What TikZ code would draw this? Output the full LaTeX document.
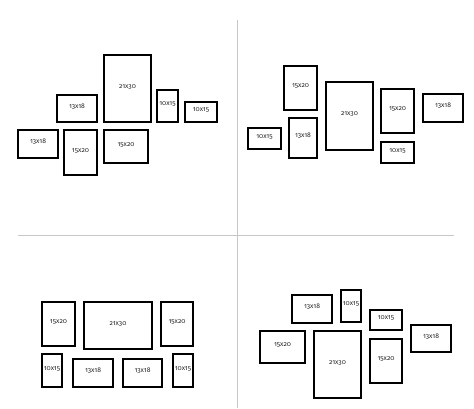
\documentclass[tikz,border=0pt]{standalone}
\usepackage{fontspec}
\setmainfont{Fira Sans}[Numbers=OldStyle]
\usetikzlibrary{fit}
\tikzset{
  frame/.style={draw=black, line width=1.9pt, inner sep=-0.95pt, font=\fontsize{6.8}{8}\selectfont, text=black!85},
  divider/.style={draw=black!22, line width=0.8pt}
}
\newcommand\frm[6]{\node[frame, fit={(#2,#3) (#4,#5)}] (#1) {#6};}
\begin{document}
\begin{tikzpicture}[x=1pt,y=-1pt]
\useasboundingbox (0,0) rectangle (474,408);
% dividers
\coordinate (vt) at (237,20);
\coordinate (vb) at (237,408);
\coordinate (hl) at (18,235);
\coordinate (hr) at (454,235);
\draw[divider] (vt) -- (vb);
\draw[divider] (hl) -- (hr);
% quadrant 1
\frm{a1}{103}{54}{152}{123}{21x30}
\frm{a2}{56}{94}{98}{123}{13x18}
\frm{a3}{156}{89}{179}{123}{10x15}
\frm{a4}{184}{101}{218}{123}{10x15}
\frm{a5}{17}{129}{59}{159}{13x18}
\frm{a6}{63}{129}{98}{176}{15x20}
\frm{a7}{103}{129}{149}{164}{15x20}
% quadrant 2
\frm{b1}{283}{65}{318}{111}{15x20}
\frm{b2}{247}{127}{282}{150}{10x15}
\frm{b3}{288}{117}{318}{159}{13x18}
\frm{b4}{325}{81}{374}{151}{21x30}
\frm{b5}{380}{88}{415}{134}{15x20}
\frm{b6}{380}{141}{415}{164}{10x15}
\frm{b7}{422}{93}{464}{123}{13x18}
% quadrant 3
\frm{c1}{41}{301}{76}{347}{15x20}
\frm{c2}{83}{301}{153}{350}{21x30}
\frm{c3}{160}{301}{194}{347}{15x20}
\frm{c4}{41}{353}{63}{388}{10x15}
\frm{c5}{72}{358}{114}{388}{13x18}
\frm{c6}{122}{358}{163}{388}{13x18}
\frm{c7}{172}{353}{194}{388}{10x15}
% quadrant 4
\frm{d1}{291}{294}{333}{324}{13x18}
\frm{d2}{340}{289}{362}{323}{10x15}
\frm{d3}{369}{309}{403}{331}{10x15}
\frm{d4}{410}{324}{452}{353}{13x18}
\frm{d5}{259}{330}{306}{364}{15x20}
\frm{d6}{313}{330}{362}{399}{21x30}
\frm{d7}{369}{338}{403}{384}{15x20}
\end{tikzpicture}
\end{document}
